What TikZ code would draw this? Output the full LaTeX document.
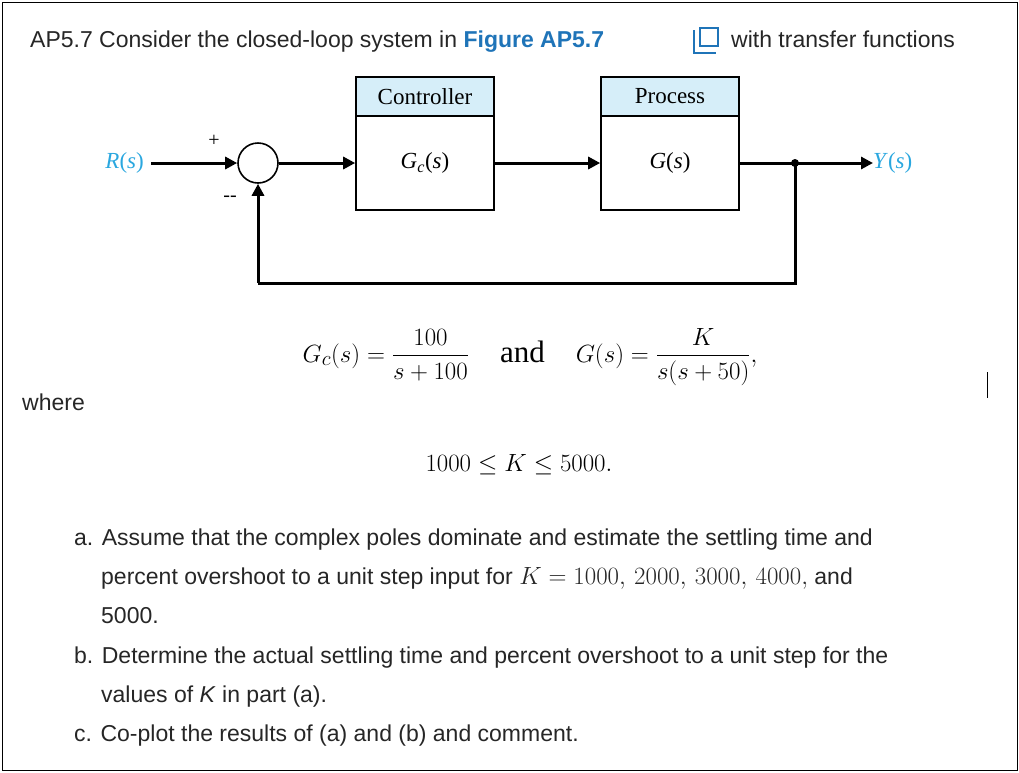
\documentclass[tikz,border=0pt]{standalone}
\usepackage{amsmath}
\usepackage{fontspec}
\setmainfont{Liberation Sans}
\newfontfamily\tms{Liberation Serif}
\usetikzlibrary{arrows.meta}
\definecolor{lblue}{HTML}{2AA7DF}
\definecolor{fblue}{HTML}{1F74B8}
\definecolor{hdr}{HTML}{D6EEF9}
\begin{document}
\begin{tikzpicture}[x=1pt,y=-1pt,
  txt/.style={anchor=base west,inner sep=0pt,font=\fontsize{23}{28}\selectfont,text=black!85},
  blk/.style={draw,line width=1.6pt,minimum width=138pt,minimum height=94pt,inner sep=0pt,font=\tms\fontsize{23}{26}\selectfont},
  hd/.style={draw,line width=1.6pt,fill=hdr,minimum width=138pt,minimum height=39pt,inner sep=0pt,font=\tms\fontsize{23}{26}\selectfont},
  sig/.style={line width=3pt,-{Triangle[length=12pt,width=12pt]}},
  wire/.style={line width=3pt},
  mth/.style={anchor=base,inner sep=0pt,font=\fontsize{31}{36}\selectfont}]
\useasboundingbox (0,0) rectangle (1019,772);
\draw[line width=1pt] (2,2) rectangle (1017,770);
% header
\node[txt] (h1) at (30,47) {AP5.7 Consider the closed-loop system in \textcolor{fblue}{\textbf{Figure AP5.7}}};
\draw[fblue,line width=2.2pt] (694,30) -- (694,53) -- (716,53);
\draw[fblue,line width=2.6pt] (700,28) rectangle (718,46);
\node[txt] (h2) at (731,47) {with transfer functions};
% block diagram
\node[hd] (ch) at (425,96.5) {Controller};
\node[blk] (cb) at (425,163) {\textit{G}\textsubscript{\textit{c}}(\textit{s})};
\node[hd] (ph) at (670,96.5) {Process};
\node[blk] (pb) at (670,163) {\textit{G}(\textit{s})};
\node[draw,circle,line width=1.6pt,minimum size=40pt,inner sep=0pt] (sum) at (258,163) {};
\node[anchor=east,inner sep=0pt,text=lblue,font=\tms\itshape\fontsize{23}{26}\selectfont] (R) at (144,163) {R\textup{(}s\textup{)}};
\node[anchor=west,inner sep=0pt,text=lblue,font=\tms\itshape\fontsize{23}{26}\selectfont] (Y) at (873,163) {Y\textup{(}s\textup{)}};
\node[font=\tms\fontsize{20}{20}\selectfont] (plus) at (214,141) {+};
\node[font=\tms\fontsize{20}{20}\selectfont] (minus) at (230,199) {--};
\coordinate (tap) at (795,163);
\coordinate (c1) at (795,283);
\coordinate (c2) at (258,283);
\draw[sig] (R.east) ++(7,0) -- (sum.west);
\draw[sig] (sum.east) -- (cb.west);
\draw[sig] (cb.east) -- (pb.west);
\draw[sig] (pb.east) -- (Y.west);
\draw[wire] (tap) -- (c1) -- (c2);
\draw[sig] (c2) -- (sum.south);
\fill (tap) circle (4pt);
% equations
\node[mth] (eq1) at (530,362) {$G_c(s)=\dfrac{100}{s+100}\quad\text{\normalfont\tms and}\quad G(s)=\dfrac{K}{s(s+50)},$};
\node[txt] (where) at (22,410) {where};
\draw[line width=1pt] (987,372) -- (987,398);
\node[mth] (eq2) at (519,471) {$1000\le K\le 5000.$};
% list
\node[txt] (a1) at (74,545) {a. Assume that the complex poles dominate and estimate the settling time and};
\node[txt] (a2) at (101,584) {percent overshoot to a unit step input for $\fontsize{29}{30}\selectfont K=1000,\,2000,\,3000,\,4000,$ and};
\node[txt] (a3) at (101,623) {5000.};
\node[txt] (b1) at (74,663) {b. Determine the actual settling time and percent overshoot to a unit step for the};
\node[txt] (b2) at (101,702) {values of \textit{K} in part (a).};
\node[txt] (c1t) at (74,741) {c. Co-plot the results of (a) and (b) and comment.};
\end{tikzpicture}
\end{document}
